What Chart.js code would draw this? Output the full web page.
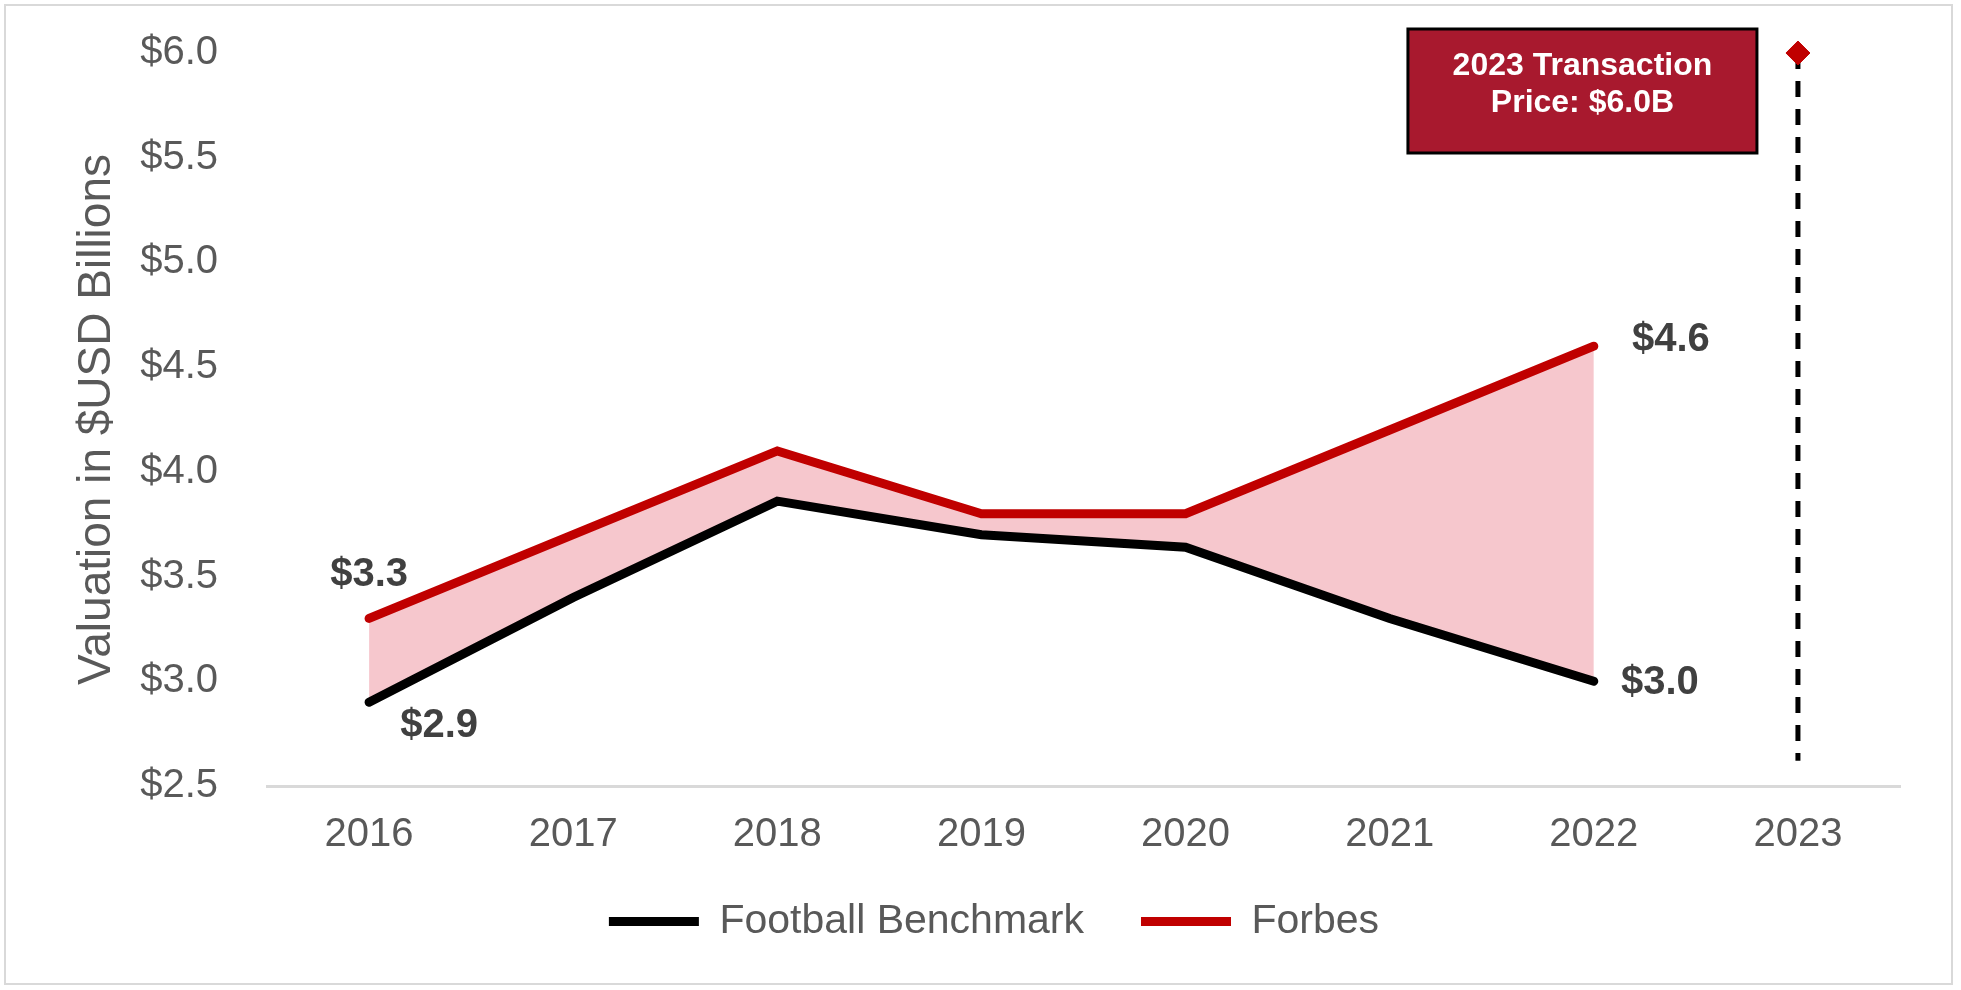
<!DOCTYPE html>
<html>
<head>
<meta charset="utf-8">
<script src="https://cdn.jsdelivr.net/npm/chart.js@4"></script>
<style>
  html, body { margin: 0; padding: 0; background: #ffffff; }
  #wrap { position: relative; width: 1961px; height: 990px; }
  #frame { position: absolute; left: 4px; top: 4px; width: 1945px; height: 977px; border: 2px solid #d9d9d9; pointer-events: none; }
  canvas { display: block; }
</style>
</head>
<body>
<div id="wrap">
  <canvas id="c" width="1961" height="990"></canvas>
  <div id="frame"></div>
</div>
<script>
// ---- data ----
const years = ['2016', '2017', '2018', '2019', '2020', '2021', '2022', '2023'];
const footballBenchmark = [2.9, 3.4, 3.86, 3.7, 3.64, 3.3, 3.0, null];
const forbes = [3.3, 3.7, 4.1, 3.8, 3.8, 4.2, 4.6, null];
const transactionYear = '2023';
const transactionPrice = 6.0;
const transactionLineBottom = 2.62;
const yTicks = [2.5, 3.0, 3.5, 4.0, 4.5, 5.0, 5.5, 6.0];
const seriesNames = ['Football Benchmark', 'Forbes'];
const yTitle = 'Valuation in $USD Billions';

const FONT = '"Liberation Sans", Arial, Helvetica, sans-serif';
const fmt = v => '$' + v.toFixed(1);

// labels for end points: [datasetIndex, pointIndex, dx, dy]
const endLabels = [
  [1, 0, 0, -43],
  [1, 6, 77, -6],
  [0, 0, 70, 24],
  [0, 6, 66, 2]
];

const labelPlugin = {
  id: 'endLabels',
  afterDatasetsDraw(chart) {
    const ctx = chart.ctx;
    const xs = chart.scales.x, ys = chart.scales.y;
    ctx.save();
    ctx.font = 'bold 40px ' + FONT;
    ctx.fillStyle = '#404040';
    ctx.textAlign = 'center';
    ctx.textBaseline = 'middle';
    endLabels.forEach(([di, pi, dx, dy]) => {
      const v = chart.data.datasets[di].data[pi];
      const px = xs.getPixelForValue(pi);
      const py = ys.getPixelForValue(v);
      ctx.fillText(fmt(v), px + dx, py + dy);
    });
    // transaction callout box
    const tx = xs.getPixelForValue(years.indexOf(transactionYear));
    const ty = ys.getPixelForValue(transactionPrice);
    const bw = 349, bh = 124;
    const bx = tx - 41 - bw, by = ty - 24;
    ctx.fillStyle = '#A8192E';
    ctx.fillRect(bx, by, bw, bh);
    ctx.lineWidth = 3;
    ctx.strokeStyle = '#000000';
    ctx.strokeRect(bx, by, bw, bh);
    ctx.fillStyle = '#ffffff';
    ctx.font = 'bold 32px ' + FONT;
    ctx.fillText(transactionYear + ' Transaction', bx + bw / 2, by + 37);
    ctx.fillText('Price: ' + fmt(transactionPrice) + 'B', bx + bw / 2, by + 74);
    ctx.restore();
  }
};

const chart = new Chart(document.getElementById('c'), {
  type: 'line',
  data: {
    labels: years,
    datasets: [
      {
        label: seriesNames[0],
        data: footballBenchmark,
        borderColor: '#000000',
        backgroundColor: '#000000',
        borderWidth: 9,
        borderCapStyle: 'round',
        borderJoinStyle: 'miter',
        pointRadius: 0,
        fill: false,
        order: 1
      },
      {
        label: seriesNames[1],
        data: forbes,
        borderColor: '#C00000',
        backgroundColor: '#F6C7CD',
        borderWidth: 9,
        borderCapStyle: 'round',
        borderJoinStyle: 'miter',
        pointRadius: 0,
        fill: { target: 0 },
        order: 2
      },
      {
        label: 'transactionLine',
        data: [{ x: transactionYear, y: transactionPrice }, { x: transactionYear, y: transactionLineBottom }],
        borderColor: '#000000',
        borderWidth: 5,
        borderDash: [16, 12],
        pointRadius: 0,
        fill: false,
        clip: false,
        order: 3
      },
      {
        label: 'transactionPoint',
        data: [{ x: transactionYear, y: transactionPrice }],
        showLine: false,
        pointStyle: 'rectRot',
        pointRadius: 12,
        pointBackgroundColor: '#C00000',
        pointBorderColor: '#C00000',
        pointBorderWidth: 1,
        fill: false,
        clip: false,
        order: 0
      }
    ]
  },
  options: {
    responsive: false,
    animation: false,
    devicePixelRatio: 1,
    layout: { padding: { left: 88, right: 61, top: 53, bottom: 38 } },
    plugins: {
      legend: {
        position: 'bottom',
        labels: {
          usePointStyle: true,
          pointStyle: 'line',
          pointStyleWidth: 90,
          padding: 57,
          color: '#595959',
          font: { family: FONT, size: 41 },
          filter: item => item.datasetIndex < 2
        }
      },
      tooltip: { enabled: false },
      filler: { drawTime: 'beforeDatasetsDraw' }
    },
    scales: {
      x: {
        offset: true,
        afterFit: axis => {
          axis.height = 58;
          axis._computeLabelArea = () => undefined;
        },
        grid: { display: false, drawTicks: false },
        border: { display: true, color: '#d9d9d9', width: 3 },
        ticks: { color: '#595959', font: { family: FONT, size: 40 }, padding: 25, maxRotation: 0 }
      },
      y: {
        min: yTicks[0],
        max: yTicks[yTicks.length - 1],
        afterBuildTicks: axis => { axis.ticks = yTicks.map(v => ({ value: v })); },
        afterFit: axis => {
          axis.width = 179;
          axis.paddingTop = 0;
          axis.paddingBottom = 0;
        },
        grid: { display: false, drawTicks: false },
        border: { display: false },
        ticks: { color: '#595959', font: { family: FONT, size: 40 }, padding: 49, callback: v => fmt(v) },
        title: {
          display: true,
          text: yTitle,
          color: '#595959',
          font: { family: FONT, size: 46 },
          padding: { top: -18, bottom: 0 }
        }
      }
    }
  },
  plugins: [labelPlugin]
});
</script>
</body>
</html>
